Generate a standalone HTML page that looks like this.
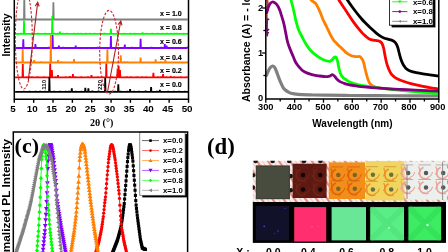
<!DOCTYPE html>
<html><head><meta charset="utf-8"><style>
html,body{margin:0;padding:0;background:#fff;}
svg{display:block;}
text{font-family:"Liberation Sans",Arial,sans-serif;font-weight:bold;fill:#000;}
.tl{font-size:9.3px;text-anchor:middle;}
.ta{font-size:9.8px;}
.yl{font-size:10.5px;}
.xl{font-size:10px;}
.pk{font-size:6px;text-anchor:middle;}
.lab{font-size:7.1px;stroke:#000;stroke-width:0.15px;}
.leg{font-size:7.8px;}
.ph{font-size:10.5px;}
.ser{font-family:"Liberation Serif","Times New Roman",serif;}
</style></head><body>
<svg width="448" height="252" viewBox="0 0 448 252">
<defs>
<clipPath id="clipA"><rect x="14.3" y="0" width="174.2" height="99.2"/></clipPath>
<clipPath id="clipC"><rect x="13.3" y="132.0" width="174.29999999999998" height="130"/></clipPath>
<pattern id="paper" width="9" height="9" patternUnits="userSpaceOnUse" patternTransform="rotate(-35)"><rect width="9" height="9" fill="#f7efee"/><rect width="2.2" height="9" fill="#e0483a" opacity="0.6"/><rect x="5" width="1.2" height="9" fill="#f0a8a0" opacity="0.6"/></pattern>
<clipPath id="clipD"><rect x="252.8" y="160.8" width="196" height="41.6"/></clipPath>
<clipPath id="clipB"><rect x="265.8" y="0" width="173.0" height="99.1"/></clipPath>
</defs>
<g clip-path="url(#clipA)">
<path d="M15.10,19.50 L24.00,19.50 L24.30,-5.00 L24.60,19.50 L53.10,19.50 L53.40,2.30 L53.70,19.50 L187.70,19.50" fill="none" stroke="#808080" stroke-width="1.8" stroke-linejoin="bevel"/>
<path d="M15.10,33.80 L20.44,33.80 L20.74,33.59 L21.04,33.80 L23.70,33.80 L24.00,20.40 L24.30,33.80 L31.75,33.80 L32.05,33.46 L32.35,33.80 L37.70,33.80 L38.00,33.42 L38.30,33.80 L44.53,33.80 L44.83,33.54 L45.13,33.80 L52.00,33.80 L52.30,16.00 L52.60,33.80 L54.21,33.80 L54.51,33.45 L54.81,33.80 L57.38,33.80 L57.68,33.48 L57.98,33.80 L59.60,33.80 L59.90,31.70 L60.20,33.80 L63.09,33.80 L63.39,33.59 L63.69,33.80 L66.83,33.80 L67.13,33.39 L67.43,33.80 L73.81,33.80 L74.11,33.57 L74.41,33.80 L77.73,33.80 L78.03,33.46 L78.33,33.80 L80.74,33.80 L81.04,33.58 L81.34,33.80 L85.65,33.80 L85.95,33.54 L86.25,33.80 L89.48,33.80 L89.78,33.63 L90.08,33.80 L94.36,33.80 L94.66,33.54 L94.96,33.80 L99.68,33.80 L99.98,33.51 L100.28,33.80 L104.04,33.80 L104.34,33.33 L104.64,33.80 L110.60,33.80 L110.90,28.80 L111.20,33.80 L117.19,33.80 L117.49,33.50 L117.79,33.80 L123.54,33.80 L123.84,33.59 L124.14,33.80 L130.25,33.80 L130.55,33.51 L130.85,33.80 L134.16,33.80 L134.46,33.46 L134.76,33.80 L142.30,33.80 L142.60,32.50 L142.90,33.80 L146.46,33.80 L146.76,33.56 L147.06,33.80 L152.00,33.80 L152.30,33.38 L152.60,33.80 L157.40,33.80 L157.70,33.59 L158.00,33.80 L162.30,33.80 L162.60,33.61 L162.90,33.80 L166.56,33.80 L166.86,33.33 L167.16,33.80 L170.28,33.80 L170.58,33.62 L170.88,33.80 L173.90,33.80 L174.20,33.32 L174.50,33.80 L177.00,33.80 L177.30,33.40 L177.60,33.80 L183.42,33.80 L183.72,33.64 L184.02,33.80 L189.87,33.80 L190.17,33.49 L190.47,33.80 L187.70,33.80" fill="none" stroke="#00ff00" stroke-width="1.8" stroke-linejoin="bevel"/>
<path d="M15.10,48.00 L23.00,48.00 L23.30,39.40 L23.60,48.00 L27.97,48.00 L28.27,47.57 L28.57,48.00 L35.10,48.00 L35.40,44.00 L35.70,48.00 L38.45,48.00 L38.75,47.21 L39.05,48.00 L45.25,48.00 L45.55,47.55 L45.85,48.00 L48.62,48.00 L48.92,47.13 L49.22,48.00 L52.30,48.00 L52.60,35.00 L52.90,48.00 L55.46,48.00 L55.76,47.71 L56.06,48.00 L58.60,48.00 L58.90,45.60 L59.20,48.00 L63.00,48.00 L63.30,47.02 L63.60,48.00 L67.31,48.00 L67.61,47.58 L67.91,48.00 L70.85,48.00 L71.15,47.50 L71.45,48.00 L75.40,48.00 L75.70,45.60 L76.00,48.00 L83.58,48.00 L83.88,47.25 L84.18,48.00 L88.28,48.00 L88.58,47.30 L88.88,48.00 L94.08,48.00 L94.38,47.33 L94.68,48.00 L97.41,48.00 L97.71,47.17 L98.01,48.00 L101.83,48.00 L102.13,47.33 L102.43,48.00 L106.53,48.00 L106.83,47.33 L107.13,48.00 L110.60,48.00 L110.90,36.10 L111.20,48.00 L116.19,48.00 L116.49,47.78 L116.79,48.00 L120.68,48.00 L120.98,47.51 L121.28,48.00 L124.50,48.00 L124.80,44.60 L125.10,48.00 L126.71,48.00 L127.01,47.33 L127.31,48.00 L131.76,48.00 L132.06,47.17 L132.36,48.00 L140.30,48.00 L140.60,38.70 L140.90,48.00 L145.36,48.00 L145.66,47.74 L145.96,48.00 L151.14,48.00 L151.44,47.07 L151.74,48.00 L155.30,48.00 L155.60,47.73 L155.90,48.00 L160.90,48.00 L161.20,47.06 L161.50,48.00 L164.50,48.00 L164.80,44.00 L165.10,48.00 L166.30,48.00 L166.60,45.50 L166.90,48.00 L170.81,48.00 L171.11,47.25 L171.41,48.00 L175.42,48.00 L175.72,47.62 L176.02,48.00 L181.60,48.00 L181.90,47.67 L182.20,48.00 L186.91,48.00 L187.21,47.00 L187.51,48.00 L187.70,48.00" fill="none" stroke="#8000ff" stroke-width="1.8" stroke-linejoin="bevel"/>
<path d="M15.10,62.50 L22.40,62.50 L22.70,48.90 L23.00,62.50 L28.01,62.50 L28.31,61.81 L28.61,62.50 L31.37,62.50 L31.67,61.98 L31.97,62.50 L33.90,62.50 L34.20,60.00 L34.50,62.50 L36.32,62.50 L36.62,62.21 L36.92,62.50 L40.67,62.50 L40.97,61.51 L41.27,62.50 L47.65,62.50 L47.95,61.71 L48.25,62.50 L50.50,62.50 L50.80,35.00 L51.10,62.50 L53.84,62.50 L54.14,61.84 L54.44,62.50 L57.70,62.50 L58.00,60.10 L58.30,62.50 L61.05,62.50 L61.35,61.53 L61.65,62.50 L64.93,62.50 L65.23,62.17 L65.53,62.50 L69.91,62.50 L70.21,61.95 L70.51,62.50 L73.70,62.50 L74.00,59.00 L74.30,62.50 L76.61,62.50 L76.91,61.91 L77.21,62.50 L80.26,62.50 L80.56,62.23 L80.86,62.50 L84.81,62.50 L85.11,61.87 L85.41,62.50 L88.08,62.50 L88.38,61.77 L88.68,62.50 L93.01,62.50 L93.31,61.80 L93.61,62.50 L99.12,62.50 L99.42,61.75 L99.72,62.50 L104.93,62.50 L105.23,61.71 L105.53,62.50 L107.10,62.50 L107.40,49.20 L107.70,62.50 L111.20,62.50 L111.50,61.52 L111.80,62.50 L117.32,62.50 L117.62,61.92 L117.92,62.50 L120.50,62.50 L120.80,55.40 L121.10,62.50 L123.91,62.50 L124.21,61.60 L124.51,62.50 L127.08,62.50 L127.38,61.62 L127.68,62.50 L131.98,62.50 L132.28,62.16 L132.58,62.50 L137.45,62.50 L137.75,61.76 L138.05,62.50 L140.30,62.50 L140.60,57.50 L140.90,62.50 L144.03,62.50 L144.33,62.09 L144.63,62.50 L148.49,62.50 L148.79,62.08 L149.09,62.50 L155.30,62.50 L155.60,59.30 L155.90,62.50 L160.63,62.50 L160.93,61.62 L161.23,62.50 L165.00,62.50 L165.30,59.30 L165.60,62.50 L169.86,62.50 L170.16,61.87 L170.46,62.50 L174.98,62.50 L175.28,62.13 L175.58,62.50 L181.24,62.50 L181.54,62.05 L181.84,62.50 L187.19,62.50 L187.49,61.72 L187.79,62.50 L187.70,62.50" fill="none" stroke="#ff8000" stroke-width="1.8" stroke-linejoin="bevel"/>
<path d="M15.10,77.30 L22.50,77.30 L22.80,64.00 L23.10,77.30 L26.38,77.30 L26.68,76.53 L26.98,77.30 L31.59,77.30 L31.89,76.53 L32.19,77.30 L37.32,77.30 L37.62,76.61 L37.92,77.30 L43.98,77.30 L44.28,77.01 L44.58,77.30 L49.90,77.30 L50.20,63.50 L50.50,77.30 L51.60,77.30 L51.90,70.00 L52.20,77.30 L55.43,77.30 L55.73,77.00 L56.03,77.30 L57.70,77.30 L58.00,75.00 L58.30,77.30 L65.59,77.30 L65.89,77.01 L66.19,77.30 L69.58,77.30 L69.88,76.38 L70.18,77.30 L72.60,77.30 L72.90,74.00 L73.20,77.30 L74.93,77.30 L75.23,76.53 L75.53,77.30 L80.97,77.30 L81.27,76.55 L81.57,77.30 L87.68,77.30 L87.98,76.42 L88.28,77.30 L91.20,77.30 L91.50,75.00 L91.80,77.30 L97.61,77.30 L97.91,76.51 L98.21,77.30 L101.70,77.30 L102.00,76.44 L102.30,77.30 L106.00,77.30 L106.30,63.60 L106.60,77.30 L111.72,77.30 L112.02,76.65 L112.32,77.30 L117.30,77.30 L117.60,68.50 L117.90,77.30 L118.40,77.30 L118.70,65.70 L119.00,77.30 L119.70,77.30 L120.00,70.00 L120.30,77.30 L126.60,77.30 L126.90,76.54 L127.20,77.30 L130.57,77.30 L130.87,76.83 L131.17,77.30 L137.03,77.30 L137.33,76.54 L137.63,77.30 L141.86,77.30 L142.16,76.90 L142.46,77.30 L145.85,77.30 L146.15,77.07 L146.45,77.30 L153.10,77.30 L153.40,72.70 L153.70,77.30 L157.63,77.30 L157.93,76.77 L158.23,77.30 L160.68,77.30 L160.98,76.71 L161.28,77.30 L162.80,77.30 L163.10,74.00 L163.40,77.30 L166.10,77.30 L166.40,76.67 L166.70,77.30 L170.45,77.30 L170.75,76.38 L171.05,77.30 L173.97,77.30 L174.27,76.61 L174.57,77.30 L180.46,77.30 L180.76,76.55 L181.06,77.30 L186.74,77.30 L187.04,77.02 L187.34,77.30 L187.70,77.30" fill="none" stroke="#ff0000" stroke-width="1.8" stroke-linejoin="bevel"/>
<path d="M15.10,91.80 L23.49,91.80 L23.79,91.09 L24.09,91.80 L29.35,91.80 L29.65,91.48 L29.95,91.80 L35.30,91.80 L35.60,91.27 L35.90,91.80 L39.83,91.80 L40.13,91.25 L40.43,91.80 L44.51,91.80 L44.81,91.29 L45.11,91.80 L49.10,91.80 L49.40,77.00 L49.70,91.80 L54.00,91.80 L54.30,91.31 L54.60,91.80 L59.86,91.80 L60.16,91.24 L60.46,91.80 L65.38,91.80 L65.68,91.53 L65.98,91.80 L68.57,91.80 L68.87,91.25 L69.17,91.80 L71.50,91.80 L71.80,88.40 L72.10,91.80 L75.35,91.80 L75.65,91.50 L75.95,91.80 L81.25,91.80 L81.55,91.41 L81.85,91.80 L85.00,91.80 L85.30,87.80 L85.60,91.80 L88.10,91.80 L88.40,88.40 L88.70,91.80 L92.05,91.80 L92.35,90.88 L92.65,91.80 L98.21,91.80 L98.51,90.81 L98.81,91.80 L104.90,91.80 L105.20,78.10 L105.50,91.80 L110.50,91.80 L110.80,91.58 L111.10,91.80 L114.71,91.80 L115.01,91.44 L115.31,91.80 L118.00,91.80 L118.30,84.30 L118.60,91.80 L120.44,91.80 L120.74,91.25 L121.04,91.80 L127.20,91.80 L127.50,91.31 L127.80,91.80 L129.80,91.80 L130.10,89.00 L130.40,91.80 L133.90,91.80 L134.20,91.11 L134.50,91.80 L138.49,91.80 L138.79,91.27 L139.09,91.80 L145.31,91.80 L145.61,90.91 L145.91,91.80 L150.80,91.80 L151.10,87.00 L151.40,91.80 L156.47,91.80 L156.77,91.31 L157.07,91.80 L159.50,91.80 L159.80,89.90 L160.10,91.80 L167.86,91.80 L168.16,91.37 L168.46,91.80 L173.65,91.80 L173.95,91.14 L174.25,91.80 L178.51,91.80 L178.81,90.99 L179.11,91.80 L184.70,91.80 L185.00,91.43 L185.30,91.80 L189.20,91.80 L189.50,91.04 L189.80,91.80 L187.70,91.80" fill="none" stroke="#000000" stroke-width="1.8" stroke-linejoin="bevel"/>
</g>
<g fill="none" stroke="#c8282e" stroke-width="1.1" stroke-dasharray="2.6,1.6">
<ellipse cx="23.8" cy="38" rx="8.5" ry="51"/>
<ellipse cx="109.1" cy="52.2" rx="9.4" ry="41.8"/>
</g>
<path d="M28.3,80 L37.7,2.2 M39.16,6.46 L37.7,2.2 L35.27,5.99" fill="none" stroke="#b01c1c" stroke-width="1.1"/>
<path d="M107.6,91.5 L120.8,21 M121.98,25.34 L120.8,21 L118.13,24.62" fill="none" stroke="#b01c1c" stroke-width="1.1"/>
<path d="M14.3,0 V99.2 H188.5 V0" fill="none" stroke="#000" stroke-width="1.5"/>
<line x1="14.30" y1="99.2" x2="14.30" y2="102.8" stroke="#000" stroke-width="1.4"/>
<text x="12.90" y="111.5" class="tl ta">5</text>
<line x1="33.66" y1="99.2" x2="33.66" y2="102.8" stroke="#000" stroke-width="1.4"/>
<text x="32.26" y="111.5" class="tl ta">10</text>
<line x1="53.01" y1="99.2" x2="53.01" y2="102.8" stroke="#000" stroke-width="1.4"/>
<text x="51.61" y="111.5" class="tl ta">15</text>
<line x1="72.37" y1="99.2" x2="72.37" y2="102.8" stroke="#000" stroke-width="1.4"/>
<text x="70.97" y="111.5" class="tl ta">20</text>
<line x1="91.72" y1="99.2" x2="91.72" y2="102.8" stroke="#000" stroke-width="1.4"/>
<text x="90.32" y="111.5" class="tl ta">25</text>
<line x1="111.08" y1="99.2" x2="111.08" y2="102.8" stroke="#000" stroke-width="1.4"/>
<text x="109.68" y="111.5" class="tl ta">30</text>
<line x1="130.43" y1="99.2" x2="130.43" y2="102.8" stroke="#000" stroke-width="1.4"/>
<text x="129.03" y="111.5" class="tl ta">35</text>
<line x1="149.79" y1="99.2" x2="149.79" y2="102.8" stroke="#000" stroke-width="1.4"/>
<text x="148.39" y="111.5" class="tl ta">40</text>
<line x1="169.14" y1="99.2" x2="169.14" y2="102.8" stroke="#000" stroke-width="1.4"/>
<text x="167.74" y="111.5" class="tl ta">45</text>
<line x1="188.50" y1="99.2" x2="188.50" y2="102.8" stroke="#000" stroke-width="1.4"/>
<text x="187.10" y="111.5" class="tl ta">50</text>
<text x="101.6" y="126.3" class="ser" font-size="10" text-anchor="middle">2θ (°)</text>
<text transform="translate(10.2,56.6) rotate(-90)" class="yl">Intensity</text>
<text transform="translate(46,84.8) rotate(-90)" class="pk">110</text>
<text transform="translate(101.7,85) rotate(-90)" class="pk">220</text>
<text x="181.8" y="16.3" class="lab" text-anchor="end">x = 1.0</text>
<text x="181.8" y="29.8" class="lab" text-anchor="end">x = 0.8</text>
<text x="181.8" y="44.3" class="lab" text-anchor="end">x = 0.6</text>
<text x="181.8" y="59.5" class="lab" text-anchor="end">x = 0.4</text>
<text x="181.8" y="73.4" class="lab" text-anchor="end">x = 0.2</text>
<text x="181.8" y="87.3" class="lab" text-anchor="end">x = 0.0</text>
<g clip-path="url(#clipB)" fill="none" stroke-width="2.8" stroke-linejoin="round" stroke-linecap="round">
<path d="M266.8,12.5 L267.2,19 L268.6,19.3 L267.2,20 L267,29.4 L268.6,29.6 L267,30.5 L267.2,32.5 L268.4,32.7 L267.2,33.5 L267.4,35.8" stroke="#800080" stroke-width="1.6"/>
<path d="M267.3,0 L267.8,4 L267.3,7 L268.2,10" stroke="#ff2020" stroke-width="2"/>
<path d="M266.9,14.3 L267.1,17.5" stroke="#ff8000" stroke-width="1.8"/>
<path d="M266.50,75.40 C266.83,74.58 267.78,71.90 268.50,70.50 C269.22,69.10 270.08,67.75 270.80,67.00 C271.52,66.25 272.13,65.90 272.80,66.00 C273.47,66.10 274.10,66.47 274.80,67.60 C275.50,68.73 276.30,71.02 277.00,72.80 C277.70,74.58 278.33,76.57 279.00,78.30 C279.67,80.03 280.33,81.70 281.00,83.20 C281.67,84.70 282.33,86.20 283.00,87.30 C283.67,88.40 284.17,89.05 285.00,89.80 C285.83,90.55 287.00,91.22 288.00,91.80 C289.00,92.38 289.33,92.87 291.00,93.30 C292.67,93.73 294.83,94.13 298.00,94.40 C301.17,94.67 305.67,94.77 310.00,94.90 C314.33,95.03 317.33,95.10 324.00,95.20 C330.67,95.30 340.67,95.42 350.00,95.50 C359.33,95.58 370.00,95.65 380.00,95.70 C390.00,95.75 400.08,95.75 410.00,95.80 C419.92,95.85 434.58,95.97 439.50,96.00" stroke="#808080" stroke-width="3.2"/>
<path d="M343.00,-8.00 C343.73,-6.67 345.55,-2.92 347.40,0.00 C349.25,2.92 351.72,6.33 354.10,9.50 C356.48,12.67 359.63,16.58 361.70,19.00 C363.77,21.42 364.92,22.40 366.50,24.00 C368.08,25.60 369.62,27.13 371.20,28.60 C372.78,30.07 374.53,31.60 376.00,32.80 C377.47,34.00 378.67,34.93 380.00,35.80 C381.33,36.67 382.67,37.43 384.00,38.00 C385.33,38.57 386.75,38.85 388.00,39.20 C389.25,39.55 390.50,39.73 391.50,40.10 C392.50,40.47 393.25,40.82 394.00,41.40 C394.75,41.98 395.37,42.58 396.00,43.60 C396.63,44.62 397.25,45.85 397.80,47.50 C398.35,49.15 398.77,51.50 399.30,53.50 C399.83,55.50 400.43,57.82 401.00,59.50 C401.57,61.18 402.15,62.47 402.70,63.60 C403.25,64.73 403.70,65.43 404.30,66.30 C404.90,67.17 405.60,68.15 406.30,68.80 C407.00,69.45 407.55,69.73 408.50,70.20 C409.45,70.67 410.72,71.18 412.00,71.60 C413.28,72.02 414.37,72.32 416.20,72.70 C418.03,73.08 420.75,73.55 423.00,73.90 C425.25,74.25 427.07,74.43 429.70,74.80 C432.33,75.17 437.28,75.88 438.80,76.10" stroke="#000000"/>
<path d="M335.00,-8.00 C335.65,-6.67 336.98,-3.23 338.90,0.00 C340.82,3.23 343.97,7.58 346.50,11.40 C349.03,15.22 351.57,19.40 354.10,22.90 C356.63,26.40 359.72,30.13 361.70,32.40 C363.68,34.67 364.73,35.40 366.00,36.50 C367.27,37.60 368.13,38.38 369.30,39.00 C370.47,39.62 371.72,39.93 373.00,40.20 C374.28,40.47 375.83,40.38 377.00,40.60 C378.17,40.82 379.17,41.02 380.00,41.50 C380.83,41.98 381.40,42.42 382.00,43.50 C382.60,44.58 383.10,46.00 383.60,48.00 C384.10,50.00 384.52,53.08 385.00,55.50 C385.48,57.92 385.92,60.33 386.50,62.50 C387.08,64.67 387.78,66.72 388.50,68.50 C389.22,70.28 390.02,71.95 390.80,73.20 C391.58,74.45 392.33,75.18 393.20,76.00 C394.07,76.82 394.87,77.43 396.00,78.10 C397.13,78.77 398.65,79.43 400.00,80.00 C401.35,80.57 402.43,80.95 404.10,81.50 C405.77,82.05 407.98,82.73 410.00,83.30 C412.02,83.87 414.03,84.38 416.20,84.90 C418.37,85.42 420.75,85.95 423.00,86.40 C425.25,86.85 427.07,87.18 429.70,87.60 C432.33,88.02 437.28,88.68 438.80,88.90" stroke="#ff0000"/>
<path d="M308.00,-6.00 C308.53,-5.00 309.87,-1.63 311.20,0.00 C312.53,1.63 314.57,1.90 316.00,3.80 C317.43,5.70 318.63,8.78 319.80,11.40 C320.97,14.02 321.88,16.98 323.00,19.50 C324.12,22.02 325.45,24.35 326.50,26.50 C327.55,28.65 328.53,30.82 329.30,32.40 C330.07,33.98 330.40,34.70 331.10,36.00 C331.80,37.30 332.55,38.93 333.50,40.20 C334.45,41.47 335.72,42.50 336.80,43.60 C337.88,44.70 338.97,45.82 340.00,46.80 C341.03,47.78 341.92,48.48 343.00,49.50 C344.08,50.52 345.28,51.95 346.50,52.90 C347.72,53.85 349.05,54.62 350.30,55.20 C351.55,55.78 352.80,56.15 354.00,56.40 C355.20,56.65 356.53,56.70 357.50,56.70 C358.47,56.70 359.02,55.97 359.80,56.40 C360.58,56.83 361.53,58.20 362.20,59.30 C362.87,60.40 363.33,61.47 363.80,63.00 C364.27,64.53 364.55,66.62 365.00,68.50 C365.45,70.38 366.00,72.47 366.50,74.30 C367.00,76.13 367.45,78.00 368.00,79.50 C368.55,81.00 368.95,82.17 369.80,83.30 C370.65,84.43 371.90,85.58 373.10,86.30 C374.30,87.02 375.02,87.22 377.00,87.60 C378.98,87.98 381.17,88.27 385.00,88.60 C388.83,88.93 394.17,89.23 400.00,89.60 C405.83,89.97 413.42,90.40 420.00,90.80 C426.58,91.20 436.25,91.80 439.50,92.00" stroke="#ff8000"/>
<path d="M289.50,-5.00 C289.75,-4.17 290.28,-2.67 291.00,0.00 C291.72,2.67 292.92,7.28 293.80,11.00 C294.68,14.72 295.42,18.97 296.30,22.30 C297.18,25.63 298.15,28.62 299.10,31.00 C300.05,33.38 301.02,34.68 302.00,36.60 C302.98,38.52 303.63,40.27 305.00,42.50 C306.37,44.73 308.28,47.80 310.20,50.00 C312.12,52.20 314.38,54.12 316.50,55.70 C318.62,57.28 320.78,58.55 322.90,59.50 C325.02,60.45 327.85,61.22 329.20,61.40 C330.55,61.58 330.47,60.92 331.00,60.60 C331.53,60.28 331.87,60.05 332.40,59.50 C332.93,58.95 333.57,57.65 334.20,57.30 C334.83,56.95 335.67,56.87 336.20,57.40 C336.73,57.93 337.03,59.15 337.40,60.50 C337.77,61.85 338.05,63.83 338.40,65.50 C338.75,67.17 339.10,69.03 339.50,70.50 C339.90,71.97 340.22,73.13 340.80,74.30 C341.38,75.47 342.05,76.55 343.00,77.50 C343.95,78.45 345.28,79.20 346.50,80.00 C347.72,80.80 349.03,81.70 350.30,82.30 C351.57,82.90 352.48,83.15 354.10,83.60 C355.72,84.05 358.10,84.60 360.00,85.00 C361.90,85.40 362.17,85.47 365.50,86.00 C368.83,86.53 374.25,87.48 380.00,88.20 C385.75,88.92 393.33,89.65 400.00,90.30 C406.67,90.95 413.42,91.52 420.00,92.10 C426.58,92.68 436.25,93.52 439.50,93.80" stroke="#00ff00"/>
<path d="M266.70,12.50 C266.98,11.58 267.80,8.52 268.40,7.00 C269.00,5.48 269.65,4.23 270.30,3.40 C270.95,2.57 271.63,2.17 272.30,2.00 C272.97,1.83 273.65,2.08 274.30,2.40 C274.95,2.72 275.55,3.18 276.20,3.90 C276.85,4.62 277.58,5.58 278.20,6.70 C278.82,7.82 279.33,9.07 279.90,10.60 C280.47,12.13 280.93,13.70 281.60,15.90 C282.27,18.10 283.25,21.17 283.90,23.80 C284.55,26.43 284.97,29.00 285.50,31.70 C286.03,34.40 286.58,37.75 287.10,40.00 C287.62,42.25 287.95,43.30 288.60,45.20 C289.25,47.10 290.23,49.52 291.00,51.40 C291.77,53.28 292.53,54.90 293.20,56.50 C293.87,58.10 294.28,59.58 295.00,61.00 C295.72,62.42 296.70,63.87 297.50,65.00 C298.30,66.13 298.88,66.82 299.80,67.80 C300.72,68.78 301.73,70.02 303.00,70.90 C304.27,71.78 305.73,72.43 307.40,73.10 C309.07,73.77 310.90,74.42 313.00,74.90 C315.10,75.38 317.92,75.70 320.00,76.00 C322.08,76.30 323.92,76.68 325.50,76.70 C327.08,76.72 328.37,76.45 329.50,76.10 C330.63,75.75 331.45,74.58 332.30,74.60 C333.15,74.62 333.82,75.43 334.60,76.20 C335.38,76.97 336.10,78.30 337.00,79.20 C337.90,80.10 338.83,80.92 340.00,81.60 C341.17,82.28 342.60,82.80 344.00,83.30 C345.40,83.80 346.40,84.17 348.40,84.60 C350.40,85.03 353.40,85.52 356.00,85.90 C358.60,86.28 360.00,86.52 364.00,86.90 C368.00,87.28 374.00,87.78 380.00,88.20 C386.00,88.62 393.33,89.05 400.00,89.40 C406.67,89.75 413.42,90.02 420.00,90.30 C426.58,90.58 436.25,90.97 439.50,91.10" stroke="#800080"/>
</g>
<g>
<rect x="391.6" y="-12" width="43.8" height="39.4" fill="#000"/>
<rect x="389.5" y="-14" width="43.6" height="39.2" fill="#fff" stroke="#000" stroke-width="0.8"/>
<line x1="392.2" y1="1.8" x2="407.4" y2="1.8" stroke="#00ff00" stroke-width="0.9"/>
<path d="M398.2,0.6000000000000001 L401.40000000000003,0.6000000000000001 L399.8,3.2 Z" fill="#00ff00"/>
<text x="413" y="4.6" class="leg">x=0.6</text>
<line x1="392.2" y1="11.6" x2="407.4" y2="11.6" stroke="#800080" stroke-width="0.9"/>
<circle cx="399.8" cy="11.6" r="1.3" fill="#800080"/>
<text x="413" y="14.399999999999999" class="leg">x=0.8</text>
<line x1="392.2" y1="21.3" x2="407.4" y2="21.3" stroke="#808080" stroke-width="0.9"/>
<path d="M398.3,21.3 L401.0,19.900000000000002 L401.0,22.7 Z" fill="#808080"/>
<text x="413" y="24.1" class="leg">x=1.0</text>
</g>
<path d="M265.8,0 V99.1 H438.8 V0" fill="none" stroke="#000" stroke-width="1.5"/>
<line x1="265.80" y1="99.1" x2="265.80" y2="102.69999999999999" stroke="#000" stroke-width="1.3"/>
<text x="265.80" y="110.3" class="tl">300</text>
<line x1="280.22" y1="99.1" x2="280.22" y2="101.5" stroke="#000" stroke-width="1.3"/>
<line x1="294.63" y1="99.1" x2="294.63" y2="102.69999999999999" stroke="#000" stroke-width="1.3"/>
<text x="294.45" y="110.3" class="tl">400</text>
<line x1="309.05" y1="99.1" x2="309.05" y2="101.5" stroke="#000" stroke-width="1.3"/>
<line x1="323.47" y1="99.1" x2="323.47" y2="102.69999999999999" stroke="#000" stroke-width="1.3"/>
<text x="323.10" y="110.3" class="tl">500</text>
<line x1="337.88" y1="99.1" x2="337.88" y2="101.5" stroke="#000" stroke-width="1.3"/>
<line x1="352.30" y1="99.1" x2="352.30" y2="102.69999999999999" stroke="#000" stroke-width="1.3"/>
<text x="351.75" y="110.3" class="tl">600</text>
<line x1="366.72" y1="99.1" x2="366.72" y2="101.5" stroke="#000" stroke-width="1.3"/>
<line x1="381.13" y1="99.1" x2="381.13" y2="102.69999999999999" stroke="#000" stroke-width="1.3"/>
<text x="380.40" y="110.3" class="tl">700</text>
<line x1="395.55" y1="99.1" x2="395.55" y2="101.5" stroke="#000" stroke-width="1.3"/>
<line x1="409.97" y1="99.1" x2="409.97" y2="102.69999999999999" stroke="#000" stroke-width="1.3"/>
<text x="409.05" y="110.3" class="tl">800</text>
<line x1="424.38" y1="99.1" x2="424.38" y2="101.5" stroke="#000" stroke-width="1.3"/>
<line x1="438.80" y1="99.1" x2="438.80" y2="102.69999999999999" stroke="#000" stroke-width="1.3"/>
<text x="437.70" y="110.3" class="tl">900</text>
<line x1="263.40000000000003" y1="75.5" x2="265.8" y2="75.5" stroke="#000" stroke-width="1.3"/>
<line x1="262.2" y1="53.0" x2="265.8" y2="53.0" stroke="#000" stroke-width="1.3"/>
<line x1="263.40000000000003" y1="30.5" x2="265.8" y2="30.5" stroke="#000" stroke-width="1.3"/>
<line x1="262.2" y1="8.0" x2="265.8" y2="8.0" stroke="#000" stroke-width="1.3"/>
<text x="260.6" y="101.4" class="tl" text-anchor="end">0</text>
<text x="260.6" y="56.4" class="tl" text-anchor="end">1</text>
<text x="260.6" y="11.4" class="tl" text-anchor="end">2</text>
<text x="352.4" y="127" class="xl" text-anchor="middle">Wavelength (nm)</text>
<text transform="translate(250.0,102.0) rotate(-90)" class="yl">Absorbance (A) = - log(T)</text>
<g clip-path="url(#clipC)">
<path d="M110.50,258.00 L117.50,240.00 L120.80,228.00 L122.70,216.00 L124.20,204.00 L125.80,184.00 L127.60,160.00 L128.60,150.00 L128.73,149.08 L128.90,148.06 L129.09,147.04 L129.30,146.18 L129.52,145.51 L129.72,145.10 L130.00,144.90 L130.30,145.10 L130.52,145.51 L130.75,146.18 L130.97,147.04 L131.18,148.06 L131.36,149.08 L131.50,150.00 L132.80,160.00 L134.60,184.00 L136.00,204.00 L137.30,216.00 L138.90,228.00 L140.50,240.00 L142.30,248.00 L145.50,249.50" fill="none" stroke="#000000" stroke-width="0.9"/>
<g fill="#000000"><rect x="128.47" y="143.37" width="3.07" height="3.07"/><rect x="128.11" y="143.73" width="3.07" height="3.07"/><rect x="127.75" y="144.72" width="3.07" height="3.07"/><rect x="127.39" y="146.41" width="3.07" height="3.07"/><rect x="127.03" y="148.87" width="3.07" height="3.07"/><rect x="126.67" y="152.47" width="3.07" height="3.07"/><rect x="126.31" y="156.07" width="3.07" height="3.07"/><rect x="125.95" y="160.07" width="3.07" height="3.07"/><rect x="125.59" y="164.87" width="3.07" height="3.07"/><rect x="125.23" y="169.67" width="3.07" height="3.07"/><rect x="124.87" y="174.47" width="3.07" height="3.07"/><rect x="124.51" y="179.27" width="3.07" height="3.07"/><rect x="124.15" y="183.97" width="3.07" height="3.07"/><rect x="123.79" y="188.47" width="3.07" height="3.07"/><rect x="123.43" y="192.97" width="3.07" height="3.07"/><rect x="123.07" y="197.47" width="3.07" height="3.07"/><rect x="122.71" y="201.97" width="3.07" height="3.07"/><rect x="122.35" y="205.03" width="3.07" height="3.07"/><rect x="121.99" y="207.91" width="3.07" height="3.07"/><rect x="121.63" y="210.79" width="3.07" height="3.07"/><rect x="121.27" y="213.67" width="3.07" height="3.07"/><rect x="120.91" y="216.11" width="3.07" height="3.07"/><rect x="120.55" y="218.38" width="3.07" height="3.07"/><rect x="120.19" y="220.66" width="3.07" height="3.07"/><rect x="119.83" y="222.93" width="3.07" height="3.07"/><rect x="119.47" y="225.20" width="3.07" height="3.07"/><rect x="119.11" y="227.05" width="3.07" height="3.07"/><rect x="118.75" y="228.36" width="3.07" height="3.07"/><rect x="118.39" y="229.67" width="3.07" height="3.07"/><rect x="118.03" y="230.98" width="3.07" height="3.07"/><rect x="117.67" y="232.28" width="3.07" height="3.07"/><rect x="117.31" y="233.59" width="3.07" height="3.07"/><rect x="116.95" y="234.90" width="3.07" height="3.07"/><rect x="116.59" y="236.21" width="3.07" height="3.07"/><rect x="116.23" y="237.52" width="3.07" height="3.07"/><rect x="115.87" y="238.72" width="3.07" height="3.07"/><rect x="115.51" y="239.65" width="3.07" height="3.07"/><rect x="115.15" y="240.57" width="3.07" height="3.07"/><rect x="114.79" y="241.50" width="3.07" height="3.07"/><rect x="114.43" y="242.43" width="3.07" height="3.07"/><rect x="114.07" y="243.35" width="3.07" height="3.07"/><rect x="113.71" y="244.28" width="3.07" height="3.07"/><rect x="113.35" y="245.20" width="3.07" height="3.07"/><rect x="112.99" y="246.13" width="3.07" height="3.07"/><rect x="112.63" y="247.05" width="3.07" height="3.07"/><rect x="112.27" y="247.98" width="3.07" height="3.07"/><rect x="111.91" y="248.91" width="3.07" height="3.07"/><rect x="111.55" y="249.83" width="3.07" height="3.07"/><rect x="111.19" y="250.76" width="3.07" height="3.07"/><rect x="110.83" y="251.68" width="3.07" height="3.07"/><rect x="110.47" y="252.61" width="3.07" height="3.07"/><rect x="110.11" y="253.53" width="3.07" height="3.07"/><rect x="109.75" y="254.46" width="3.07" height="3.07"/><rect x="109.39" y="255.39" width="3.07" height="3.07"/><rect x="109.03" y="256.31" width="3.07" height="3.07"/><rect x="128.47" y="143.37" width="3.07" height="3.07"/><rect x="128.83" y="143.68" width="3.07" height="3.07"/><rect x="129.19" y="144.55" width="3.07" height="3.07"/><rect x="129.55" y="146.03" width="3.07" height="3.07"/><rect x="129.91" y="148.08" width="3.07" height="3.07"/><rect x="130.27" y="150.77" width="3.07" height="3.07"/><rect x="130.63" y="153.54" width="3.07" height="3.07"/><rect x="130.99" y="156.31" width="3.07" height="3.07"/><rect x="131.35" y="159.53" width="3.07" height="3.07"/><rect x="131.71" y="164.33" width="3.07" height="3.07"/><rect x="132.07" y="169.13" width="3.07" height="3.07"/><rect x="132.43" y="173.93" width="3.07" height="3.07"/><rect x="132.79" y="178.73" width="3.07" height="3.07"/><rect x="133.15" y="183.61" width="3.07" height="3.07"/><rect x="133.51" y="188.75" width="3.07" height="3.07"/><rect x="133.87" y="193.89" width="3.07" height="3.07"/><rect x="134.23" y="199.04" width="3.07" height="3.07"/><rect x="134.59" y="203.57" width="3.07" height="3.07"/><rect x="134.95" y="206.90" width="3.07" height="3.07"/><rect x="135.31" y="210.22" width="3.07" height="3.07"/><rect x="135.67" y="213.54" width="3.07" height="3.07"/><rect x="136.03" y="216.42" width="3.07" height="3.07"/><rect x="136.39" y="219.12" width="3.07" height="3.07"/><rect x="136.75" y="221.82" width="3.07" height="3.07"/><rect x="137.11" y="224.52" width="3.07" height="3.07"/><rect x="137.47" y="227.22" width="3.07" height="3.07"/><rect x="137.83" y="229.92" width="3.07" height="3.07"/><rect x="138.19" y="232.62" width="3.07" height="3.07"/><rect x="138.55" y="235.32" width="3.07" height="3.07"/><rect x="138.91" y="238.02" width="3.07" height="3.07"/><rect x="139.27" y="239.80" width="3.07" height="3.07"/><rect x="139.63" y="241.40" width="3.07" height="3.07"/><rect x="139.99" y="243.00" width="3.07" height="3.07"/><rect x="140.35" y="244.60" width="3.07" height="3.07"/><rect x="140.71" y="246.20" width="3.07" height="3.07"/><rect x="141.07" y="246.61" width="3.07" height="3.07"/><rect x="141.43" y="246.78" width="3.07" height="3.07"/><rect x="141.79" y="246.94" width="3.07" height="3.07"/><rect x="142.15" y="247.11" width="3.07" height="3.07"/><rect x="142.51" y="247.28" width="3.07" height="3.07"/><rect x="142.87" y="247.45" width="3.07" height="3.07"/><rect x="143.23" y="247.62" width="3.07" height="3.07"/><rect x="143.59" y="247.79" width="3.07" height="3.07"/><rect x="143.95" y="247.96" width="3.07" height="3.07"/></g>
<path d="M94.30,258.00 L99.30,240.00 L101.70,228.00 L103.40,216.00 L104.60,204.00 L105.60,196.00 L107.00,178.00 L108.60,160.00 L110.00,150.00 L110.15,149.08 L110.34,148.06 L110.56,147.04 L110.80,146.18 L111.05,145.51 L111.28,145.10 L111.60,144.90 L111.98,145.10 L112.26,145.51 L112.55,146.18 L112.83,147.04 L113.10,148.06 L113.32,149.08 L113.50,150.00 L115.20,160.00 L117.50,178.00 L119.40,196.00 L119.80,204.00 L120.60,216.00 L121.70,228.00 L123.70,240.00 L127.80,258.00" fill="none" stroke="#ff0000" stroke-width="0.9"/>
<g fill="#ff0000"><circle cx="111.60" cy="144.90" r="1.65"/><circle cx="111.24" cy="145.17" r="1.65"/><circle cx="110.88" cy="145.96" r="1.65"/><circle cx="110.52" cy="147.24" r="1.65"/><circle cx="110.16" cy="149.03" r="1.65"/><circle cx="109.80" cy="151.43" r="1.65"/><circle cx="109.44" cy="154.00" r="1.65"/><circle cx="109.08" cy="156.57" r="1.65"/><circle cx="108.72" cy="159.14" r="1.65"/><circle cx="108.36" cy="162.70" r="1.65"/><circle cx="108.00" cy="166.75" r="1.65"/><circle cx="107.64" cy="170.80" r="1.65"/><circle cx="107.28" cy="174.85" r="1.65"/><circle cx="106.92" cy="179.03" r="1.65"/><circle cx="106.56" cy="183.66" r="1.65"/><circle cx="106.20" cy="188.29" r="1.65"/><circle cx="105.84" cy="192.91" r="1.65"/><circle cx="105.48" cy="196.96" r="1.65"/><circle cx="105.12" cy="199.84" r="1.65"/><circle cx="104.76" cy="202.72" r="1.65"/><circle cx="104.40" cy="206.00" r="1.65"/><circle cx="104.04" cy="209.60" r="1.65"/><circle cx="103.68" cy="213.20" r="1.65"/><circle cx="103.32" cy="216.56" r="1.65"/><circle cx="102.96" cy="219.11" r="1.65"/><circle cx="102.60" cy="221.65" r="1.65"/><circle cx="102.24" cy="224.19" r="1.65"/><circle cx="101.88" cy="226.73" r="1.65"/><circle cx="101.52" cy="228.90" r="1.65"/><circle cx="101.16" cy="230.70" r="1.65"/><circle cx="100.80" cy="232.50" r="1.65"/><circle cx="100.44" cy="234.30" r="1.65"/><circle cx="100.08" cy="236.10" r="1.65"/><circle cx="99.72" cy="237.90" r="1.65"/><circle cx="99.36" cy="239.70" r="1.65"/><circle cx="99.00" cy="241.08" r="1.65"/><circle cx="98.64" cy="242.38" r="1.65"/><circle cx="98.28" cy="243.67" r="1.65"/><circle cx="97.92" cy="244.97" r="1.65"/><circle cx="97.56" cy="246.26" r="1.65"/><circle cx="97.20" cy="247.56" r="1.65"/><circle cx="96.84" cy="248.86" r="1.65"/><circle cx="96.48" cy="250.15" r="1.65"/><circle cx="96.12" cy="251.45" r="1.65"/><circle cx="95.76" cy="252.74" r="1.65"/><circle cx="95.40" cy="254.04" r="1.65"/><circle cx="95.04" cy="255.34" r="1.65"/><circle cx="94.68" cy="256.63" r="1.65"/><circle cx="94.32" cy="257.93" r="1.65"/><circle cx="111.60" cy="144.90" r="1.65"/><circle cx="111.96" cy="145.09" r="1.65"/><circle cx="112.32" cy="145.65" r="1.65"/><circle cx="112.68" cy="146.58" r="1.65"/><circle cx="113.04" cy="147.85" r="1.65"/><circle cx="113.40" cy="149.49" r="1.65"/><circle cx="113.76" cy="151.53" r="1.65"/><circle cx="114.12" cy="153.65" r="1.65"/><circle cx="114.48" cy="155.76" r="1.65"/><circle cx="114.84" cy="157.88" r="1.65"/><circle cx="115.20" cy="160.00" r="1.65"/><circle cx="115.56" cy="162.82" r="1.65"/><circle cx="115.92" cy="165.63" r="1.65"/><circle cx="116.28" cy="168.45" r="1.65"/><circle cx="116.64" cy="171.27" r="1.65"/><circle cx="117.00" cy="174.09" r="1.65"/><circle cx="117.36" cy="176.90" r="1.65"/><circle cx="117.72" cy="180.08" r="1.65"/><circle cx="118.08" cy="183.49" r="1.65"/><circle cx="118.44" cy="186.91" r="1.65"/><circle cx="118.80" cy="190.32" r="1.65"/><circle cx="119.16" cy="193.73" r="1.65"/><circle cx="119.52" cy="198.40" r="1.65"/><circle cx="119.88" cy="205.20" r="1.65"/><circle cx="120.24" cy="210.60" r="1.65"/><circle cx="120.60" cy="216.00" r="1.65"/><circle cx="120.96" cy="219.93" r="1.65"/><circle cx="121.32" cy="223.85" r="1.65"/><circle cx="121.68" cy="227.78" r="1.65"/><circle cx="122.04" cy="230.04" r="1.65"/><circle cx="122.40" cy="232.20" r="1.65"/><circle cx="122.76" cy="234.36" r="1.65"/><circle cx="123.12" cy="236.52" r="1.65"/><circle cx="123.48" cy="238.68" r="1.65"/><circle cx="123.84" cy="240.61" r="1.65"/><circle cx="124.20" cy="242.20" r="1.65"/><circle cx="124.56" cy="243.78" r="1.65"/><circle cx="124.92" cy="245.36" r="1.65"/><circle cx="125.28" cy="246.94" r="1.65"/><circle cx="125.64" cy="248.52" r="1.65"/><circle cx="126.00" cy="250.10" r="1.65"/><circle cx="126.36" cy="251.68" r="1.65"/><circle cx="126.72" cy="253.26" r="1.65"/><circle cx="127.08" cy="254.84" r="1.65"/><circle cx="127.44" cy="256.42" r="1.65"/><circle cx="127.80" cy="258.00" r="1.65"/></g>
<path d="M70.00,258.00 L74.30,230.00 L76.20,214.00 L77.60,196.00 L78.80,178.00 L79.60,160.00 L80.60,150.00 L80.78,148.94 L81.00,147.76 L81.27,146.58 L81.55,145.57 L81.84,144.81 L82.12,144.34 L82.50,144.10 L82.96,144.34 L83.30,144.81 L83.65,145.57 L83.99,146.58 L84.31,147.76 L84.58,148.94 L84.80,150.00 L86.00,160.00 L88.00,178.00 L90.00,196.00 L92.30,214.00 L94.50,230.00 L99.00,258.00" fill="none" stroke="#ff8000" stroke-width="0.9"/>
<g fill="#ff8000"><path d="M82.50,141.74 L84.86,145.99 L80.14,145.99 Z"/><path d="M82.14,141.96 L84.50,146.21 L79.78,146.21 Z"/><path d="M81.78,142.61 L84.14,146.86 L79.42,146.86 Z"/><path d="M81.42,143.68 L83.78,147.93 L79.06,147.93 Z"/><path d="M81.06,145.15 L83.42,149.40 L78.70,149.40 Z"/><path d="M80.70,147.05 L83.06,151.30 L78.34,151.30 Z"/><path d="M80.34,150.24 L82.70,154.49 L77.98,154.49 Z"/><path d="M79.98,153.84 L82.34,158.09 L77.62,158.09 Z"/><path d="M79.62,157.44 L81.98,161.69 L77.26,161.69 Z"/><path d="M79.26,165.29 L81.62,169.54 L76.90,169.54 Z"/><path d="M78.90,173.39 L81.26,177.64 L76.54,177.64 Z"/><path d="M78.54,179.54 L80.90,183.79 L76.18,183.79 Z"/><path d="M78.18,184.94 L80.54,189.19 L75.82,189.19 Z"/><path d="M77.82,190.34 L80.18,194.59 L75.46,194.59 Z"/><path d="M77.46,195.44 L79.82,199.69 L75.10,199.69 Z"/><path d="M77.10,200.07 L79.46,204.32 L74.74,204.32 Z"/><path d="M76.74,204.70 L79.10,208.95 L74.38,208.95 Z"/><path d="M76.38,209.33 L78.74,213.57 L74.02,213.57 Z"/><path d="M76.02,213.16 L78.38,217.40 L73.66,217.40 Z"/><path d="M75.66,216.19 L78.02,220.44 L73.30,220.44 Z"/><path d="M75.30,219.22 L77.66,223.47 L72.94,223.47 Z"/><path d="M74.94,222.25 L77.30,226.50 L72.58,226.50 Z"/><path d="M74.58,225.28 L76.94,229.53 L72.22,229.53 Z"/><path d="M74.22,228.16 L76.58,232.41 L71.86,232.41 Z"/><path d="M73.86,230.51 L76.22,234.75 L71.50,234.75 Z"/><path d="M73.50,232.85 L75.86,237.10 L71.14,237.10 Z"/><path d="M73.14,235.19 L75.50,239.44 L70.78,239.44 Z"/><path d="M72.78,237.54 L75.14,241.79 L70.42,241.79 Z"/><path d="M72.42,239.88 L74.78,244.13 L70.06,244.13 Z"/><path d="M72.06,242.23 L74.42,246.47 L69.70,246.47 Z"/><path d="M71.70,244.57 L74.06,248.82 L69.34,248.82 Z"/><path d="M71.34,246.91 L73.70,251.16 L68.98,251.16 Z"/><path d="M70.98,249.26 L73.34,253.51 L68.62,253.51 Z"/><path d="M70.62,251.60 L72.98,255.85 L68.26,255.85 Z"/><path d="M70.26,253.95 L72.62,258.19 L67.90,258.19 Z"/><path d="M82.50,141.74 L84.86,145.99 L80.14,145.99 Z"/><path d="M82.86,141.92 L85.22,146.17 L80.50,146.17 Z"/><path d="M83.22,142.34 L85.58,146.59 L80.86,146.59 Z"/><path d="M83.58,143.06 L85.94,147.31 L81.22,147.31 Z"/><path d="M83.94,144.07 L86.30,148.32 L81.58,148.32 Z"/><path d="M84.30,145.36 L86.66,149.61 L81.94,149.61 Z"/><path d="M84.66,146.96 L87.02,151.20 L82.30,151.20 Z"/><path d="M85.02,149.47 L87.38,153.72 L82.66,153.72 Z"/><path d="M85.38,152.47 L87.74,156.72 L83.02,156.72 Z"/><path d="M85.74,155.47 L88.10,159.72 L83.38,159.72 Z"/><path d="M86.10,158.54 L88.46,162.79 L83.74,162.79 Z"/><path d="M86.46,161.78 L88.82,166.03 L84.10,166.03 Z"/><path d="M86.82,165.02 L89.18,169.27 L84.46,169.27 Z"/><path d="M87.18,168.26 L89.54,172.51 L84.82,172.51 Z"/><path d="M87.54,171.50 L89.90,175.75 L85.18,175.75 Z"/><path d="M87.90,174.74 L90.26,178.99 L85.54,178.99 Z"/><path d="M88.26,177.98 L90.62,182.23 L85.90,182.23 Z"/><path d="M88.62,181.22 L90.98,185.47 L86.26,185.47 Z"/><path d="M88.98,184.46 L91.34,188.71 L86.62,188.71 Z"/><path d="M89.34,187.70 L91.70,191.95 L86.98,191.95 Z"/><path d="M89.70,190.94 L92.06,195.19 L87.34,195.19 Z"/><path d="M90.06,194.11 L92.42,198.36 L87.70,198.36 Z"/><path d="M90.42,196.93 L92.78,201.17 L88.06,201.17 Z"/><path d="M90.78,199.74 L93.14,203.99 L88.42,203.99 Z"/><path d="M91.14,202.56 L93.50,206.81 L88.78,206.81 Z"/><path d="M91.50,205.38 L93.86,209.63 L89.14,209.63 Z"/><path d="M91.86,208.20 L94.22,212.44 L89.50,212.44 Z"/><path d="M92.22,211.01 L94.58,215.26 L89.86,215.26 Z"/><path d="M92.58,213.68 L94.94,217.92 L90.22,217.92 Z"/><path d="M92.94,216.29 L95.30,220.54 L90.58,220.54 Z"/><path d="M93.30,218.91 L95.66,223.16 L90.94,223.16 Z"/><path d="M93.66,221.53 L96.02,225.78 L91.30,225.78 Z"/><path d="M94.02,224.15 L96.38,228.40 L91.66,228.40 Z"/><path d="M94.38,226.77 L96.74,231.02 L92.02,231.02 Z"/><path d="M94.74,229.13 L97.10,233.38 L92.38,233.38 Z"/><path d="M95.10,231.37 L97.46,235.62 L92.74,235.62 Z"/><path d="M95.46,233.61 L97.82,237.86 L93.10,237.86 Z"/><path d="M95.82,235.85 L98.18,240.10 L93.46,240.10 Z"/><path d="M96.18,238.09 L98.54,242.34 L93.82,242.34 Z"/><path d="M96.54,240.33 L98.90,244.58 L94.18,244.58 Z"/><path d="M96.90,242.57 L99.26,246.82 L94.54,246.82 Z"/><path d="M97.26,244.81 L99.62,249.06 L94.90,249.06 Z"/><path d="M97.62,247.05 L99.98,251.30 L95.26,251.30 Z"/><path d="M97.98,249.29 L100.34,253.54 L95.62,253.54 Z"/><path d="M98.34,251.53 L100.70,255.78 L95.98,255.78 Z"/><path d="M98.70,253.77 L101.06,258.02 L96.34,258.02 Z"/></g>
<path d="M42.30,258.00 L45.00,230.00 L46.40,208.00 L46.80,200.00 L47.40,184.00 L47.80,168.00 L48.20,160.00 L49.00,150.00 L49.12,149.12 L49.28,148.14 L49.46,147.16 L49.65,146.32 L49.85,145.69 L50.04,145.30 L50.30,145.10 L50.64,145.30 L50.89,145.69 L51.15,146.32 L51.40,147.16 L51.64,148.14 L51.84,149.12 L52.00,150.00 L53.60,160.00 L54.40,168.00 L56.00,184.00 L57.00,200.00 L58.00,208.00 L61.50,230.00 L66.60,258.00" fill="none" stroke="#8000ff" stroke-width="0.9"/>
<g fill="#8000ff"><path d="M50.30,147.46 L52.66,143.21 L47.94,143.21 Z"/><path d="M49.94,147.86 L52.30,143.61 L47.58,143.61 Z"/><path d="M49.58,148.99 L51.94,144.74 L47.22,144.74 Z"/><path d="M49.22,150.86 L51.58,146.61 L46.86,146.61 Z"/><path d="M48.86,154.11 L51.22,149.86 L46.50,149.86 Z"/><path d="M48.50,158.61 L50.86,154.36 L46.14,154.36 Z"/><path d="M48.14,163.56 L50.50,159.31 L45.78,159.31 Z"/><path d="M47.78,171.16 L50.14,166.91 L45.42,166.91 Z"/><path d="M47.42,185.56 L49.78,181.31 L45.06,181.31 Z"/><path d="M47.06,195.43 L49.42,191.18 L44.70,191.18 Z"/><path d="M46.70,204.36 L49.06,200.11 L44.34,200.11 Z"/><path d="M46.34,211.30 L48.70,207.05 L43.98,207.05 Z"/><path d="M45.98,216.96 L48.34,212.71 L43.62,212.71 Z"/><path d="M45.62,222.62 L47.98,218.37 L43.26,218.37 Z"/><path d="M45.26,228.27 L47.62,224.03 L42.90,224.03 Z"/><path d="M44.90,233.40 L47.26,229.15 L42.54,229.15 Z"/><path d="M44.54,237.13 L46.90,232.88 L42.18,232.88 Z"/><path d="M44.18,240.86 L46.54,236.62 L41.82,236.62 Z"/><path d="M43.82,244.60 L46.18,240.35 L41.46,240.35 Z"/><path d="M43.46,248.33 L45.82,244.08 L41.10,244.08 Z"/><path d="M43.10,252.06 L45.46,247.82 L40.74,247.82 Z"/><path d="M42.74,255.80 L45.10,251.55 L40.38,251.55 Z"/><path d="M42.38,259.53 L44.74,255.28 L40.02,255.28 Z"/><path d="M50.30,147.46 L52.66,143.21 L47.94,143.21 Z"/><path d="M50.66,147.69 L53.02,143.44 L48.30,143.44 Z"/><path d="M51.02,148.37 L53.38,144.12 L48.66,144.12 Z"/><path d="M51.38,149.45 L53.74,145.20 L49.02,145.20 Z"/><path d="M51.74,150.99 L54.10,146.74 L49.38,146.74 Z"/><path d="M52.10,152.98 L54.46,148.74 L49.74,148.74 Z"/><path d="M52.46,155.23 L54.82,150.99 L50.10,150.99 Z"/><path d="M52.82,157.49 L55.18,153.24 L50.46,153.24 Z"/><path d="M53.18,159.74 L55.54,155.49 L50.82,155.49 Z"/><path d="M53.54,161.99 L55.90,157.74 L51.18,157.74 Z"/><path d="M53.90,165.36 L56.26,161.11 L51.54,161.11 Z"/><path d="M54.26,168.96 L56.62,164.71 L51.90,164.71 Z"/><path d="M54.62,172.56 L56.98,168.31 L52.26,168.31 Z"/><path d="M54.98,176.16 L57.34,171.91 L52.62,171.91 Z"/><path d="M55.34,179.76 L57.70,175.51 L52.98,175.51 Z"/><path d="M55.70,183.36 L58.06,179.11 L53.34,179.11 Z"/><path d="M56.06,187.32 L58.42,183.07 L53.70,183.07 Z"/><path d="M56.42,193.08 L58.78,188.83 L54.06,188.83 Z"/><path d="M56.78,198.84 L59.14,194.59 L54.42,194.59 Z"/><path d="M57.14,203.48 L59.50,199.23 L54.78,199.23 Z"/><path d="M57.50,206.36 L59.86,202.11 L55.14,202.11 Z"/><path d="M57.86,209.24 L60.22,204.99 L55.50,204.99 Z"/><path d="M58.22,211.74 L60.58,207.49 L55.86,207.49 Z"/><path d="M58.58,214.01 L60.94,209.76 L56.22,209.76 Z"/><path d="M58.94,216.27 L61.30,212.02 L56.58,212.02 Z"/><path d="M59.30,218.53 L61.66,214.28 L56.94,214.28 Z"/><path d="M59.66,220.79 L62.02,216.55 L57.30,216.55 Z"/><path d="M60.02,223.06 L62.38,218.81 L57.66,218.81 Z"/><path d="M60.38,225.32 L62.74,221.07 L58.02,221.07 Z"/><path d="M60.74,227.58 L63.10,223.33 L58.38,223.33 Z"/><path d="M61.10,229.85 L63.46,225.60 L58.74,225.60 Z"/><path d="M61.46,232.11 L63.82,227.86 L59.10,227.86 Z"/><path d="M61.82,234.12 L64.18,229.87 L59.46,229.87 Z"/><path d="M62.18,236.09 L64.54,231.85 L59.82,231.85 Z"/><path d="M62.54,238.07 L64.90,233.82 L60.18,233.82 Z"/><path d="M62.90,240.05 L65.26,235.80 L60.54,235.80 Z"/><path d="M63.26,242.02 L65.62,237.77 L60.90,237.77 Z"/><path d="M63.62,244.00 L65.98,239.75 L61.26,239.75 Z"/><path d="M63.98,245.98 L66.34,241.73 L61.62,241.73 Z"/><path d="M64.34,247.95 L66.70,243.70 L61.98,243.70 Z"/><path d="M64.70,249.93 L67.06,245.68 L62.34,245.68 Z"/><path d="M65.06,251.91 L67.42,247.66 L62.70,247.66 Z"/><path d="M65.42,253.88 L67.78,249.63 L63.06,249.63 Z"/><path d="M65.78,255.86 L68.14,251.61 L63.42,251.61 Z"/><path d="M66.14,257.83 L68.50,253.59 L63.78,253.59 Z"/><path d="M66.50,259.81 L68.86,255.56 L64.14,255.56 Z"/></g>
<path d="M36.40,258.00 L38.50,230.00 L39.70,208.00 L40.10,200.00 L40.70,184.00 L41.30,168.00 L41.60,160.00 L42.60,150.00 L42.71,149.08 L42.86,148.06 L43.02,147.04 L43.20,146.18 L43.38,145.51 L43.56,145.10 L43.80,144.90 L44.08,145.10 L44.28,145.51 L44.50,146.18 L44.71,147.04 L44.90,148.06 L45.07,149.08 L45.20,150.00 L46.40,160.00 L46.80,168.00 L47.30,184.00 L47.90,200.00 L48.30,208.00 L50.00,230.00 L53.20,258.00" fill="none" stroke="#00ff00" stroke-width="0.9"/>
<g fill="#00ff00"><path d="M43.80,142.66 L45.82,144.90 L43.80,147.14 L41.78,144.90 Z"/><path d="M43.44,143.14 L45.46,145.38 L43.44,147.62 L41.42,145.38 Z"/><path d="M43.08,144.52 L45.10,146.76 L43.08,149.00 L41.06,146.76 Z"/><path d="M42.72,146.79 L44.74,149.03 L42.72,151.28 L40.70,149.03 Z"/><path d="M42.36,150.16 L44.38,152.40 L42.36,154.64 L40.34,152.40 Z"/><path d="M42.00,153.76 L44.02,156.00 L42.00,158.24 L39.98,156.00 Z"/><path d="M41.64,157.36 L43.66,159.60 L41.64,161.84 L39.62,159.60 Z"/><path d="M41.28,166.29 L43.30,168.53 L41.28,170.78 L39.26,168.53 Z"/><path d="M40.92,175.89 L42.94,178.13 L40.92,180.38 L38.90,178.13 Z"/><path d="M40.56,185.49 L42.58,187.73 L40.56,189.98 L38.54,187.73 Z"/><path d="M40.20,195.09 L42.22,197.33 L40.20,199.58 L38.18,197.33 Z"/><path d="M39.84,202.96 L41.86,205.20 L39.84,207.44 L37.82,205.20 Z"/><path d="M39.48,209.79 L41.50,212.03 L39.48,214.28 L37.46,212.03 Z"/><path d="M39.12,216.39 L41.14,218.63 L39.12,220.88 L37.10,218.63 Z"/><path d="M38.76,222.99 L40.78,225.23 L38.76,227.48 L36.74,225.23 Z"/><path d="M38.40,229.09 L40.42,231.33 L38.40,233.58 L36.38,231.33 Z"/><path d="M38.04,233.89 L40.06,236.13 L38.04,238.38 L36.02,236.13 Z"/><path d="M37.68,238.69 L39.70,240.93 L37.68,243.18 L35.66,240.93 Z"/><path d="M37.32,243.49 L39.34,245.73 L37.32,247.98 L35.30,245.73 Z"/><path d="M36.96,248.29 L38.98,250.53 L36.96,252.78 L34.94,250.53 Z"/><path d="M36.60,253.09 L38.62,255.33 L36.60,257.58 L34.58,255.33 Z"/><path d="M43.80,142.66 L45.82,144.90 L43.80,147.14 L41.78,144.90 Z"/><path d="M44.16,143.02 L46.18,145.26 L44.16,147.51 L42.14,145.26 Z"/><path d="M44.52,144.02 L46.54,146.26 L44.52,148.50 L42.50,146.26 Z"/><path d="M44.88,145.70 L46.90,147.95 L44.88,150.19 L42.86,147.95 Z"/><path d="M45.24,148.09 L47.26,150.33 L45.24,152.58 L43.22,150.33 Z"/><path d="M45.60,151.09 L47.62,153.33 L45.60,155.58 L43.58,153.33 Z"/><path d="M45.96,154.09 L47.98,156.33 L45.96,158.58 L43.94,156.33 Z"/><path d="M46.32,157.09 L48.34,159.33 L46.32,161.58 L44.30,159.33 Z"/><path d="M46.68,163.36 L48.70,165.60 L46.68,167.84 L44.66,165.60 Z"/><path d="M47.04,173.44 L49.06,175.68 L47.04,177.92 L45.02,175.68 Z"/><path d="M47.40,184.42 L49.42,186.67 L47.40,188.91 L45.38,186.67 Z"/><path d="M47.76,194.02 L49.78,196.27 L47.76,198.51 L45.74,196.27 Z"/><path d="M48.12,202.16 L50.14,204.40 L48.12,206.64 L46.10,204.40 Z"/><path d="M48.48,208.09 L50.50,210.33 L48.48,212.57 L46.46,210.33 Z"/><path d="M48.84,212.75 L50.86,214.99 L48.84,217.23 L46.82,214.99 Z"/><path d="M49.20,217.41 L51.22,219.65 L49.20,221.89 L47.18,219.65 Z"/><path d="M49.56,222.06 L51.58,224.31 L49.56,226.55 L47.54,224.31 Z"/><path d="M49.92,226.72 L51.94,228.96 L49.92,231.21 L47.90,228.96 Z"/><path d="M50.28,230.21 L52.30,232.45 L50.28,234.69 L48.26,232.45 Z"/><path d="M50.64,233.36 L52.66,235.60 L50.64,237.84 L48.62,235.60 Z"/><path d="M51.00,236.51 L53.02,238.75 L51.00,240.99 L48.98,238.75 Z"/><path d="M51.36,239.66 L53.38,241.90 L51.36,244.14 L49.34,241.90 Z"/><path d="M51.72,242.81 L53.74,245.05 L51.72,247.29 L49.70,245.05 Z"/><path d="M52.08,245.96 L54.10,248.20 L52.08,250.44 L50.06,248.20 Z"/><path d="M52.44,249.11 L54.46,251.35 L52.44,253.59 L50.42,251.35 Z"/><path d="M52.80,252.26 L54.82,254.50 L52.80,256.74 L50.78,254.50 Z"/><path d="M53.16,255.41 L55.18,257.65 L53.16,259.89 L51.14,257.65 Z"/></g>
<path d="M14.00,258.00 L23.00,230.00 L29.20,208.00 L31.00,200.00 L34.00,184.00 L37.00,168.00 L38.60,160.00 L41.80,150.00 L42.07,149.19 L42.42,148.29 L42.82,147.39 L43.25,146.62 L43.70,146.04 L44.12,145.68 L44.70,145.50 L45.36,145.68 L45.84,146.04 L46.35,146.62 L46.84,147.39 L47.30,148.29 L47.69,149.19 L48.00,150.00 L51.40,160.00 L52.40,168.00 L55.00,184.00 L56.20,200.00 L56.90,208.00 L58.60,230.00 L61.50,258.00" fill="none" stroke="#808080" stroke-width="0.9"/>
<g fill="#808080"><path d="M42.58,145.50 L46.40,143.38 L46.40,147.62 Z"/><path d="M42.22,145.61 L46.04,143.49 L46.04,147.74 Z"/><path d="M41.86,145.80 L45.68,143.67 L45.68,147.92 Z"/><path d="M41.50,146.14 L45.32,144.02 L45.32,148.26 Z"/><path d="M41.14,146.61 L44.96,144.49 L44.96,148.74 Z"/><path d="M40.78,147.25 L44.60,145.12 L44.60,149.37 Z"/><path d="M40.42,148.01 L44.24,145.89 L44.24,150.14 Z"/><path d="M40.06,148.91 L43.88,146.79 L43.88,151.04 Z"/><path d="M39.70,149.94 L43.52,147.82 L43.52,152.06 Z"/><path d="M39.34,151.06 L43.16,148.94 L43.16,153.19 Z"/><path d="M38.98,152.19 L42.80,150.06 L42.80,154.31 Z"/><path d="M38.62,153.31 L42.44,151.19 L42.44,155.44 Z"/><path d="M38.26,154.44 L42.08,152.31 L42.08,156.56 Z"/><path d="M37.90,155.56 L41.72,153.44 L41.72,157.69 Z"/><path d="M37.54,156.69 L41.36,154.56 L41.36,158.81 Z"/><path d="M37.18,157.81 L41.00,155.69 L41.00,159.94 Z"/><path d="M36.82,158.94 L40.64,156.81 L40.64,161.06 Z"/><path d="M36.46,160.10 L40.28,157.98 L40.28,162.22 Z"/><path d="M36.10,161.90 L39.92,159.78 L39.92,164.02 Z"/><path d="M35.74,163.70 L39.56,161.58 L39.56,165.82 Z"/><path d="M35.38,165.50 L39.20,163.38 L39.20,167.62 Z"/><path d="M35.02,167.30 L38.84,165.18 L38.84,169.42 Z"/><path d="M34.66,169.17 L38.48,167.05 L38.48,171.30 Z"/><path d="M34.30,171.09 L38.12,168.97 L38.12,173.22 Z"/><path d="M33.94,173.01 L37.76,170.89 L37.76,175.14 Z"/><path d="M33.58,174.93 L37.40,172.81 L37.40,177.06 Z"/><path d="M33.22,176.85 L37.04,174.73 L37.04,178.98 Z"/><path d="M32.86,178.77 L36.68,176.65 L36.68,180.90 Z"/><path d="M32.50,180.69 L36.32,178.57 L36.32,182.82 Z"/><path d="M32.14,182.61 L35.96,180.49 L35.96,184.74 Z"/><path d="M31.78,184.53 L35.60,182.41 L35.60,186.66 Z"/><path d="M31.42,186.45 L35.24,184.33 L35.24,188.58 Z"/><path d="M31.06,188.37 L34.88,186.25 L34.88,190.50 Z"/><path d="M30.70,190.29 L34.52,188.17 L34.52,192.42 Z"/><path d="M30.34,192.21 L34.16,190.09 L34.16,194.34 Z"/><path d="M29.98,194.13 L33.80,192.01 L33.80,196.26 Z"/><path d="M29.62,196.05 L33.44,193.93 L33.44,198.18 Z"/><path d="M29.26,197.97 L33.08,195.85 L33.08,200.10 Z"/><path d="M28.90,199.89 L32.72,197.77 L32.72,202.02 Z"/><path d="M28.54,201.51 L32.36,199.39 L32.36,203.64 Z"/><path d="M28.18,203.11 L32.00,200.99 L32.00,205.24 Z"/><path d="M27.82,204.71 L31.64,202.59 L31.64,206.84 Z"/><path d="M27.46,206.31 L31.28,204.19 L31.28,208.44 Z"/><path d="M27.10,207.91 L30.92,205.79 L30.92,210.04 Z"/><path d="M26.74,209.21 L30.56,207.08 L30.56,211.33 Z"/><path d="M26.38,210.48 L30.20,208.36 L30.20,212.61 Z"/><path d="M26.02,211.76 L29.84,209.64 L29.84,213.89 Z"/><path d="M25.66,213.04 L29.48,210.91 L29.48,215.16 Z"/><path d="M25.30,214.32 L29.12,212.19 L29.12,216.44 Z"/><path d="M24.94,215.59 L28.76,213.47 L28.76,217.72 Z"/><path d="M24.58,216.87 L28.40,214.75 L28.40,218.99 Z"/><path d="M24.22,218.15 L28.04,216.02 L28.04,220.27 Z"/><path d="M23.86,219.43 L27.68,217.30 L27.68,221.55 Z"/><path d="M23.50,220.70 L27.32,218.58 L27.32,222.83 Z"/><path d="M23.14,221.98 L26.96,219.86 L26.96,224.10 Z"/><path d="M22.78,223.26 L26.60,221.13 L26.60,225.38 Z"/><path d="M22.42,224.54 L26.24,222.41 L26.24,226.66 Z"/><path d="M22.06,225.81 L25.88,223.69 L25.88,227.94 Z"/><path d="M21.70,227.09 L25.52,224.97 L25.52,229.21 Z"/><path d="M21.34,228.37 L25.16,226.24 L25.16,230.49 Z"/><path d="M20.98,229.65 L24.80,227.52 L24.80,231.77 Z"/><path d="M20.62,230.81 L24.44,228.68 L24.44,232.93 Z"/><path d="M20.26,231.93 L24.08,229.80 L24.08,234.05 Z"/><path d="M19.90,233.05 L23.72,230.92 L23.72,235.17 Z"/><path d="M19.54,234.17 L23.36,232.04 L23.36,236.29 Z"/><path d="M19.18,235.29 L23.00,233.16 L23.00,237.41 Z"/><path d="M18.82,236.41 L22.64,234.28 L22.64,238.53 Z"/><path d="M18.46,237.53 L22.28,235.40 L22.28,239.65 Z"/><path d="M18.10,238.65 L21.92,236.52 L21.92,240.77 Z"/><path d="M17.74,239.77 L21.56,237.64 L21.56,241.89 Z"/><path d="M17.38,240.89 L21.20,238.76 L21.20,243.01 Z"/><path d="M17.02,242.01 L20.84,239.88 L20.84,244.13 Z"/><path d="M16.66,243.13 L20.48,241.00 L20.48,245.25 Z"/><path d="M16.30,244.25 L20.12,242.12 L20.12,246.37 Z"/><path d="M15.94,245.37 L19.76,243.24 L19.76,247.49 Z"/><path d="M15.58,246.49 L19.40,244.36 L19.40,248.61 Z"/><path d="M15.22,247.61 L19.04,245.48 L19.04,249.73 Z"/><path d="M14.86,248.73 L18.68,246.60 L18.68,250.85 Z"/><path d="M14.50,249.85 L18.32,247.72 L18.32,251.97 Z"/><path d="M14.14,250.97 L17.96,248.84 L17.96,253.09 Z"/><path d="M13.78,252.09 L17.60,249.96 L17.60,254.21 Z"/><path d="M13.42,253.21 L17.24,251.08 L17.24,255.33 Z"/><path d="M13.06,254.33 L16.88,252.20 L16.88,256.45 Z"/><path d="M12.70,255.45 L16.52,253.32 L16.52,257.57 Z"/><path d="M12.34,256.57 L16.16,254.44 L16.16,258.69 Z"/><path d="M11.98,257.69 L15.80,255.56 L15.80,259.81 Z"/><path d="M42.58,145.50 L46.40,143.38 L46.40,147.62 Z"/><path d="M42.94,145.60 L46.76,143.47 L46.76,147.72 Z"/><path d="M43.30,145.72 L47.12,143.60 L47.12,147.85 Z"/><path d="M43.66,145.99 L47.48,143.87 L47.48,148.12 Z"/><path d="M44.02,146.38 L47.84,144.26 L47.84,148.51 Z"/><path d="M44.38,146.86 L48.20,144.74 L48.20,148.98 Z"/><path d="M44.74,147.43 L48.56,145.31 L48.56,149.56 Z"/><path d="M45.10,148.14 L48.92,146.01 L48.92,150.26 Z"/><path d="M45.46,148.94 L49.28,146.82 L49.28,151.06 Z"/><path d="M45.82,149.84 L49.64,147.72 L49.64,151.97 Z"/><path d="M46.18,150.88 L50.00,148.76 L50.00,153.01 Z"/><path d="M46.54,151.94 L50.36,149.82 L50.36,154.07 Z"/><path d="M46.90,153.00 L50.72,150.88 L50.72,155.12 Z"/><path d="M47.26,154.06 L51.08,151.93 L51.08,156.18 Z"/><path d="M47.62,155.12 L51.44,152.99 L51.44,157.24 Z"/><path d="M47.98,156.18 L51.80,154.05 L51.80,158.30 Z"/><path d="M48.34,157.24 L52.16,155.11 L52.16,159.36 Z"/><path d="M48.70,158.29 L52.52,156.17 L52.52,160.42 Z"/><path d="M49.06,159.35 L52.88,157.23 L52.88,161.48 Z"/><path d="M49.42,161.12 L53.24,159.00 L53.24,163.24 Z"/><path d="M49.78,164.00 L53.60,161.88 L53.60,166.12 Z"/><path d="M50.14,166.88 L53.96,164.76 L53.96,169.00 Z"/><path d="M50.50,169.35 L54.32,167.23 L54.32,171.48 Z"/><path d="M50.86,171.57 L54.68,169.45 L54.68,173.69 Z"/><path d="M51.22,173.78 L55.04,171.66 L55.04,175.91 Z"/><path d="M51.58,176.00 L55.40,173.88 L55.40,178.12 Z"/><path d="M51.94,178.22 L55.76,176.09 L55.76,180.34 Z"/><path d="M52.30,180.43 L56.12,178.31 L56.12,182.55 Z"/><path d="M52.66,182.65 L56.48,180.52 L56.48,184.77 Z"/><path d="M53.02,185.87 L56.84,183.74 L56.84,187.99 Z"/><path d="M53.38,190.67 L57.20,188.54 L57.20,192.79 Z"/><path d="M53.74,195.47 L57.56,193.34 L57.56,197.59 Z"/><path d="M54.10,200.23 L57.92,198.10 L57.92,202.35 Z"/><path d="M54.46,204.34 L58.28,202.22 L58.28,206.47 Z"/><path d="M54.82,208.52 L58.64,206.39 L58.64,210.64 Z"/><path d="M55.18,213.18 L59.00,211.05 L59.00,215.30 Z"/><path d="M55.54,217.84 L59.36,215.71 L59.36,219.96 Z"/><path d="M55.90,222.49 L59.72,220.37 L59.72,224.62 Z"/><path d="M56.26,227.15 L60.08,225.03 L60.08,229.28 Z"/><path d="M56.62,231.35 L60.44,229.23 L60.44,233.48 Z"/><path d="M56.98,234.83 L60.80,232.70 L60.80,236.95 Z"/><path d="M57.34,238.30 L61.16,236.18 L61.16,240.43 Z"/><path d="M57.70,241.78 L61.52,239.66 L61.52,243.90 Z"/><path d="M58.06,245.26 L61.88,243.13 L61.88,247.38 Z"/><path d="M58.42,248.73 L62.24,246.61 L62.24,250.86 Z"/><path d="M58.78,252.21 L62.60,250.08 L62.60,254.33 Z"/><path d="M59.14,255.68 L62.96,253.56 L62.96,257.81 Z"/></g>
</g>
<rect x="142.3" y="134" width="45.3" height="63.4" fill="#000"/>
<rect x="139.8" y="132" width="45.3" height="63.3" fill="#fff" stroke="#555" stroke-width="0.7"/>
<line x1="142" y1="140.60" x2="159" y2="140.60" stroke="#000000" stroke-width="0.6"/>
<g fill="#000000"><rect x="149.20" y="139.30" width="2.60" height="2.60"/></g>
<text x="163" y="143.40" class="leg">x=0.0</text>
<line x1="142" y1="150.55" x2="159" y2="150.55" stroke="#ff0000" stroke-width="0.6"/>
<g fill="#ff0000"><circle cx="150.50" cy="150.55" r="1.40"/></g>
<text x="163" y="153.35" class="leg">x=0.2</text>
<line x1="142" y1="160.50" x2="159" y2="160.50" stroke="#ff8000" stroke-width="0.6"/>
<g fill="#ff8000"><path d="M150.50,158.50 L152.50,162.10 L148.50,162.10 Z"/></g>
<text x="163" y="163.30" class="leg">x=0.4</text>
<line x1="142" y1="170.45" x2="159" y2="170.45" stroke="#8000ff" stroke-width="0.6"/>
<g fill="#8000ff"><path d="M150.50,172.45 L152.50,168.85 L148.50,168.85 Z"/></g>
<text x="163" y="173.25" class="leg">x=0.6</text>
<line x1="142" y1="180.40" x2="159" y2="180.40" stroke="#00ff00" stroke-width="0.6"/>
<g fill="#00ff00"><path d="M150.50,178.50 L152.21,180.40 L150.50,182.30 L148.79,180.40 Z"/></g>
<text x="163" y="183.20" class="leg">x=0.8</text>
<line x1="142" y1="190.35" x2="159" y2="190.35" stroke="#808080" stroke-width="0.6"/>
<g fill="#808080"><path d="M148.70,190.35 L151.94,188.55 L151.94,192.15 Z"/></g>
<text x="163" y="193.15" class="leg">x=1.0</text>
<path d="M13.3,260 V132.0 H187.6 V260" fill="none" stroke="#000" stroke-width="1.5"/>
<text x="14.6" y="152.8" class="ser" font-size="22">(c)</text>
<text transform="translate(10.4,139.0) rotate(-90)" class="yl" text-anchor="end" style="font-size:11.8px">Normalized PL Intensity</text>
<text x="207" y="154.2" class="ser" font-size="22.8">(d)</text>
<rect x="252.8" y="160.8" width="196" height="41.6" fill="url(#paper)"/>
<g fill="#151515" clip-path="url(#clipD)"><circle cx="255.6" cy="161.0" r="2.3"/><circle cx="272.6" cy="161.0" r="2.3"/><circle cx="289.2" cy="161.0" r="2.3"/><circle cx="304.0" cy="160.9" r="2.3"/><circle cx="320.4" cy="160.9" r="2.3"/><circle cx="252.9" cy="175.2" r="2.3"/><circle cx="252.9" cy="187.6" r="2.3"/><circle cx="290.8" cy="176.0" r="2.3"/><circle cx="290.8" cy="190.2" r="2.3"/></g>
<rect x="255.8" y="165.5" width="34.1" height="33.7" fill="#474c3e"/>
<rect x="292.6" y="163.7" width="34.0" height="34.3" fill="#5e1a12"/>
<rect x="328.8" y="162.4" width="36.4" height="36.6" fill="#f28e1a"/>
<rect x="366.0" y="161.2" width="38.4" height="39.2" fill="#f0d65e"/>
<rect x="406.7" y="161.7" width="40.3" height="38.0" fill="#ecf0ec"/>
<rect x="256.5" y="166.2" width="32.7" height="32.3" fill="none" stroke="#3e4035" stroke-width="1"/>
<g opacity="0.55"><path d="M300.5,169.29999999999998 Q294.5,172.6 297.5,178.6 Q300.0,181.9 305.5,180.6" fill="none" stroke="#7e2a1c" stroke-width="1.7"/><path d="M295.5,168.6 Q298.0,173.1 295.2,176.6" fill="none" stroke="#7e2a1c" stroke-width="1.2"/><path d="M304.0,179.9 Q308.5,178.6 309.5,174.1" fill="none" stroke="#7e2a1c" stroke-width="1.1"/><rect x="295.5" y="166.5" width="12.5" height="1" fill="#6a2418"/></g><circle cx="303.0" cy="175.1" r="2.25" fill="#120604"/>
<g opacity="0.55"><path d="M300.5,183.6 Q294.5,186.9 297.5,192.9 Q300.0,196.20000000000002 305.5,194.9" fill="none" stroke="#7e2a1c" stroke-width="1.7"/><path d="M295.5,182.9 Q298.0,187.4 295.2,190.9" fill="none" stroke="#7e2a1c" stroke-width="1.2"/><path d="M304.0,194.20000000000002 Q308.5,192.9 309.5,188.4" fill="none" stroke="#7e2a1c" stroke-width="1.1"/><rect x="295.5" y="180.8" width="12.5" height="1" fill="#6a2418"/></g><circle cx="303.0" cy="189.4" r="2.25" fill="#120604"/>
<g opacity="0.55"><path d="M317.7,169.29999999999998 Q311.7,172.6 314.7,178.6 Q317.2,181.9 322.7,180.6" fill="none" stroke="#7e2a1c" stroke-width="1.7"/><path d="M312.7,168.6 Q315.2,173.1 312.4,176.6" fill="none" stroke="#7e2a1c" stroke-width="1.2"/><path d="M321.2,179.9 Q325.7,178.6 326.7,174.1" fill="none" stroke="#7e2a1c" stroke-width="1.1"/><rect x="312.7" y="166.5" width="12.5" height="1" fill="#6a2418"/></g><circle cx="320.2" cy="175.1" r="2.25" fill="#120604"/>
<g opacity="0.55"><path d="M317.7,183.6 Q311.7,186.9 314.7,192.9 Q317.2,196.20000000000002 322.7,194.9" fill="none" stroke="#7e2a1c" stroke-width="1.7"/><path d="M312.7,182.9 Q315.2,187.4 312.4,190.9" fill="none" stroke="#7e2a1c" stroke-width="1.2"/><path d="M321.2,194.20000000000002 Q325.7,192.9 326.7,188.4" fill="none" stroke="#7e2a1c" stroke-width="1.1"/><rect x="312.7" y="180.8" width="12.5" height="1" fill="#6a2418"/></g><circle cx="320.2" cy="189.4" r="2.25" fill="#120604"/>
<g opacity="1.0"><path d="M335.8,169.2 Q329.8,172.5 332.8,178.5 Q335.3,181.8 340.8,180.5" fill="none" stroke="#e0620a" stroke-width="1.7"/><path d="M330.8,168.5 Q333.3,173.0 330.5,176.5" fill="none" stroke="#e0620a" stroke-width="1.2"/><path d="M339.3,179.8 Q343.8,178.5 344.8,174.0" fill="none" stroke="#e0620a" stroke-width="1.1"/><rect x="330.8" y="166.4" width="12.5" height="1" fill="#d86a18"/></g><circle cx="338.3" cy="175.0" r="2.25" fill="#7a6428"/>
<g opacity="1.0"><path d="M335.8,183.0 Q329.8,186.3 332.8,192.3 Q335.3,195.60000000000002 340.8,194.3" fill="none" stroke="#e0620a" stroke-width="1.7"/><path d="M330.8,182.3 Q333.3,186.8 330.5,190.3" fill="none" stroke="#e0620a" stroke-width="1.2"/><path d="M339.3,193.60000000000002 Q343.8,192.3 344.8,187.8" fill="none" stroke="#e0620a" stroke-width="1.1"/><rect x="330.8" y="180.20000000000002" width="12.5" height="1" fill="#d86a18"/></g><circle cx="338.3" cy="188.8" r="2.25" fill="#7a6428"/>
<g opacity="1.0"><path d="M352.3,169.2 Q346.3,172.5 349.3,178.5 Q351.8,181.8 357.3,180.5" fill="none" stroke="#e0620a" stroke-width="1.7"/><path d="M347.3,168.5 Q349.8,173.0 347.0,176.5" fill="none" stroke="#e0620a" stroke-width="1.2"/><path d="M355.8,179.8 Q360.3,178.5 361.3,174.0" fill="none" stroke="#e0620a" stroke-width="1.1"/><rect x="347.3" y="166.4" width="12.5" height="1" fill="#d86a18"/></g><circle cx="354.8" cy="175.0" r="2.25" fill="#7a6428"/>
<g opacity="1.0"><path d="M352.3,183.0 Q346.3,186.3 349.3,192.3 Q351.8,195.60000000000002 357.3,194.3" fill="none" stroke="#e0620a" stroke-width="1.7"/><path d="M347.3,182.3 Q349.8,186.8 347.0,190.3" fill="none" stroke="#e0620a" stroke-width="1.2"/><path d="M355.8,193.60000000000002 Q360.3,192.3 361.3,187.8" fill="none" stroke="#e0620a" stroke-width="1.1"/><rect x="347.3" y="180.20000000000002" width="12.5" height="1" fill="#d86a18"/></g><circle cx="354.8" cy="188.8" r="2.25" fill="#7a6428"/>
<g opacity="1.0"><path d="M370.4,169.0 Q364.4,172.3 367.4,178.3 Q369.9,181.60000000000002 375.4,180.3" fill="none" stroke="#ec9028" stroke-width="1.7"/><path d="M365.4,168.3 Q367.9,172.8 365.09999999999997,176.3" fill="none" stroke="#ec9028" stroke-width="1.2"/><path d="M373.9,179.60000000000002 Q378.4,178.3 379.4,173.8" fill="none" stroke="#ec9028" stroke-width="1.1"/><rect x="365.4" y="166.20000000000002" width="12.5" height="1" fill="#d8a040"/></g><circle cx="372.9" cy="174.8" r="2.25" fill="#6c7040"/>
<g opacity="1.0"><path d="M370.4,183.7 Q364.4,187.0 367.4,193.0 Q369.9,196.3 375.4,195.0" fill="none" stroke="#ec9028" stroke-width="1.7"/><path d="M365.4,183.0 Q367.9,187.5 365.09999999999997,191.0" fill="none" stroke="#ec9028" stroke-width="1.2"/><path d="M373.9,194.3 Q378.4,193.0 379.4,188.5" fill="none" stroke="#ec9028" stroke-width="1.1"/><rect x="365.4" y="180.9" width="12.5" height="1" fill="#d8a040"/></g><circle cx="372.9" cy="189.5" r="2.25" fill="#6c7040"/>
<g opacity="1.0"><path d="M388.7,169.0 Q382.7,172.3 385.7,178.3 Q388.2,181.60000000000002 393.7,180.3" fill="none" stroke="#ec9028" stroke-width="1.7"/><path d="M383.7,168.3 Q386.2,172.8 383.4,176.3" fill="none" stroke="#ec9028" stroke-width="1.2"/><path d="M392.2,179.60000000000002 Q396.7,178.3 397.7,173.8" fill="none" stroke="#ec9028" stroke-width="1.1"/><rect x="383.7" y="166.20000000000002" width="12.5" height="1" fill="#d8a040"/></g><circle cx="391.2" cy="174.8" r="2.25" fill="#6c7040"/>
<g opacity="1.0"><path d="M388.7,183.7 Q382.7,187.0 385.7,193.0 Q388.2,196.3 393.7,195.0" fill="none" stroke="#ec9028" stroke-width="1.7"/><path d="M383.7,183.0 Q386.2,187.5 383.4,191.0" fill="none" stroke="#ec9028" stroke-width="1.2"/><path d="M392.2,194.3 Q396.7,193.0 397.7,188.5" fill="none" stroke="#ec9028" stroke-width="1.1"/><rect x="383.7" y="180.9" width="12.5" height="1" fill="#d8a040"/></g><circle cx="391.2" cy="189.5" r="2.25" fill="#6c7040"/>
<g opacity="1.0"><path d="M405.7,167.2 Q399.7,170.5 402.7,176.5 Q405.2,179.8 410.7,178.5" fill="none" stroke="#eca29a" stroke-width="1.7"/><path d="M400.7,166.5 Q403.2,171.0 400.4,174.5" fill="none" stroke="#eca29a" stroke-width="1.2"/><path d="M409.2,177.8 Q413.7,176.5 414.7,172.0" fill="none" stroke="#eca29a" stroke-width="1.1"/><rect x="400.7" y="164.4" width="12.5" height="1" fill="#b8b0b0"/></g><circle cx="408.2" cy="173.0" r="2.25" fill="#555a58"/>
<g opacity="1.0"><path d="M405.7,181.79999999999998 Q399.7,185.1 402.7,191.1 Q405.2,194.4 410.7,193.1" fill="none" stroke="#eca29a" stroke-width="1.7"/><path d="M400.7,181.1 Q403.2,185.6 400.4,189.1" fill="none" stroke="#eca29a" stroke-width="1.2"/><path d="M409.2,192.4 Q413.7,191.1 414.7,186.6" fill="none" stroke="#eca29a" stroke-width="1.1"/><rect x="400.7" y="179.0" width="12.5" height="1" fill="#b8b0b0"/></g><circle cx="408.2" cy="187.6" r="2.25" fill="#555a58"/>
<g opacity="1.0"><path d="M423.5,167.2 Q417.5,170.5 420.5,176.5 Q423.0,179.8 428.5,178.5" fill="none" stroke="#eca29a" stroke-width="1.7"/><path d="M418.5,166.5 Q421.0,171.0 418.2,174.5" fill="none" stroke="#eca29a" stroke-width="1.2"/><path d="M427.0,177.8 Q431.5,176.5 432.5,172.0" fill="none" stroke="#eca29a" stroke-width="1.1"/><rect x="418.5" y="164.4" width="12.5" height="1" fill="#b8b0b0"/></g><circle cx="426.0" cy="173.0" r="2.25" fill="#555a58"/>
<g opacity="1.0"><path d="M423.5,181.79999999999998 Q417.5,185.1 420.5,191.1 Q423.0,194.4 428.5,193.1" fill="none" stroke="#eca29a" stroke-width="1.7"/><path d="M418.5,181.1 Q421.0,185.6 418.2,189.1" fill="none" stroke="#eca29a" stroke-width="1.2"/><path d="M427.0,192.4 Q431.5,191.1 432.5,186.6" fill="none" stroke="#eca29a" stroke-width="1.1"/><rect x="418.5" y="179.0" width="12.5" height="1" fill="#b8b0b0"/></g><circle cx="426.0" cy="187.6" r="2.25" fill="#555a58"/>
<g opacity="1.0"><path d="M440.7,167.2 Q434.7,170.5 437.7,176.5 Q440.2,179.8 445.7,178.5" fill="none" stroke="#eca29a" stroke-width="1.7"/><path d="M435.7,166.5 Q438.2,171.0 435.4,174.5" fill="none" stroke="#eca29a" stroke-width="1.2"/><path d="M444.2,177.8 Q448.7,176.5 449.7,172.0" fill="none" stroke="#eca29a" stroke-width="1.1"/><rect x="435.7" y="164.4" width="12.5" height="1" fill="#b8b0b0"/></g><circle cx="443.2" cy="173.0" r="2.25" fill="#555a58"/>
<g opacity="1.0"><path d="M440.7,181.79999999999998 Q434.7,185.1 437.7,191.1 Q440.2,194.4 445.7,193.1" fill="none" stroke="#eca29a" stroke-width="1.7"/><path d="M435.7,181.1 Q438.2,185.6 435.4,189.1" fill="none" stroke="#eca29a" stroke-width="1.2"/><path d="M444.2,192.4 Q448.7,191.1 449.7,186.6" fill="none" stroke="#eca29a" stroke-width="1.1"/><rect x="435.7" y="179.0" width="12.5" height="1" fill="#b8b0b0"/></g><circle cx="443.2" cy="187.6" r="2.25" fill="#555a58"/>
<g fill="none" stroke="#777" stroke-width="0.8"><line x1="407" y1="165" x2="407" y2="199"/><line x1="442.6" y1="162" x2="442.6" y2="200"/></g>
<rect x="252.8" y="202" width="193.2" height="40.9" fill="#000"/>
<rect x="255.8" y="206.0" width="33.3" height="34.4" fill="#12112a"/>
<rect x="294.2" y="207.1" width="32.0" height="34.5" fill="#ff2e6e"/>
<rect x="331.6" y="207.1" width="34.4" height="33.3" fill="#6ae697"/>
<rect x="370.2" y="207.1" width="33.8" height="33.3" fill="#5aee86"/>
<rect x="408.4" y="206.7" width="32.7" height="33.7" fill="#3ced62"/>
<g fill="#3a4cff" opacity="0.85"><circle cx="264.2" cy="226.3" r="0.9"/><circle cx="278" cy="231" r="0.8"/><circle cx="274.5" cy="233.5" r="0.5"/><circle cx="285" cy="208.5" r="0.6"/></g>
<g stroke="#30c060" stroke-width="6" opacity="0.16"><line x1="370.5" y1="207.5" x2="403.5" y2="240"/><line x1="403.5" y1="207.5" x2="370.5" y2="240"/></g>
<g stroke="#22b848" stroke-width="6" opacity="0.2"><line x1="408.8" y1="207" x2="440.8" y2="240"/><line x1="440.8" y1="207" x2="408.8" y2="240"/></g>
<g fill="#e8fff0" opacity="0.8"><circle cx="427.5" cy="225" r="1.3"/><circle cx="389" cy="228" r="0.9"/></g>
<g fill="#ff80c0" opacity="0.6"><circle cx="312" cy="227" r="0.8"/><circle cx="318" cy="226" r="0.6"/></g>
<text x="236.3" y="256" class="ph">X :</text>
<text x="273.2" y="256" class="ph" text-anchor="middle">0.0</text>
<text x="308.2" y="256" class="ph" text-anchor="middle">0.4</text>
<text x="346.6" y="256" class="ph" text-anchor="middle">0.6</text>
<text x="386.8" y="256" class="ph" text-anchor="middle">0.8</text>
<text x="424.5" y="256" class="ph" text-anchor="middle">1.0</text>
</svg>
</body></html>
